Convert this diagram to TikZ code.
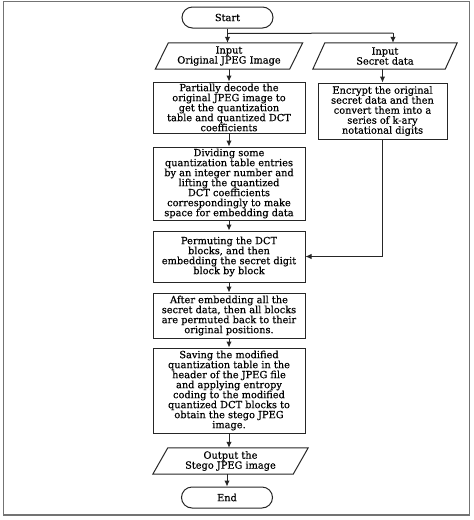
\documentclass[tikz,border=0pt]{standalone}
\usepackage{fontspec}
\setmainfont[FakeBold=0.4]{DejaVu Serif}
\usetikzlibrary{arrows.meta,calc}
\tikzset{
  txt/.style={align=center, inner sep=0pt, font=\fontsize{9.8}{10}\selectfont},
  proc/.style={txt, draw=black!85, line width=1pt, fill=white},
  term/.style={txt, draw=black!85, line width=1pt, rounded corners=10.5pt,
    minimum width=91pt, minimum height=21pt},
  iobox/.style={txt, minimum height=26pt},
  ln/.style={line width=1pt, draw=black!85},
  arr/.style={ln, -{Latex[length=6pt,width=5.5pt]}},
  frame/.style={draw=black!55, line width=1.5pt}
}
\newcommand{\parabox}[2]{%
  \draw[ln] ($(#1.south west)+(-#2,0)$) -- ($(#1.south east)+(-#2,0)$)
    -- ($(#1.north east)+(#2,0)$) -- ($(#1.north west)+(#2,0)$) -- cycle;}
\begin{document}
\begin{tikzpicture}[x=1pt,y=1pt]
\useasboundingbox (0,0) rectangle (474,-520);
\draw[frame] (3.5,-1.5) rectangle (469.5,-515);

\node[term] (start) at (227.5,-17.5) {Start};
\node[iobox, minimum width=134pt] (in1) at (229,-56) {Input\\Original JPEG Image};
\parabox{in1}{6.5}
\node[iobox, minimum width=132pt] (in2) at (385,-56) {Input\\Secret data};
\parabox{in2}{6}

\node[proc, minimum width=152pt, minimum height=51pt] (b1) at (229,-107.5)
  {Partially decode the\\original JPEG image to\\get the quantization\\table and quantized DCT\\coefficients};
\node[proc, minimum width=129pt, minimum height=56pt] (enc) at (382.5,-111)
  {Encrypt the original\\secret data and then\\convert them into a\\series of k-ary\\notational digits};
\node[proc, minimum width=152pt, minimum height=73pt] (b2) at (229,-183.5)
  {Dividing some\\quantization table entries\\by an integer number and\\lifting the quantized\\DCT coefficients\\correspondingly to make\\space for embedding data};
\node[proc, minimum width=152pt, minimum height=51pt] (b3) at (229,-256.5)
  {Permuting the DCT\\blocks, and then\\embedding the secret digit\\block by block};
\node[proc, minimum width=152pt, minimum height=45pt] (b4) at (229,-315.5)
  {After embedding all the\\secret data, then all blocks\\are permuted back to their\\original positions.};
\node[proc, minimum width=152pt, minimum height=85pt] (b5) at (229,-390.5)
  {Saving the modified\\quantization table in the\\header of the JPEG file\\and applying entropy\\coding to the modified\\quantized DCT blocks to\\obtain the stego JPEG\\image.};
\node[iobox, minimum width=140pt] (out) at (230.5,-461) {Output the\\Stego JPEG image};
\parabox{out}{7.5}
\node[term] (end) at (227,-497.5) {End};

\coordinate (br) at ($(start.south)+(0,-5)$);
\coordinate (brr) at (393,-33);
\draw[arr] (start.south) -- (start.south |- in1.north);
\draw[ln] (br) -- (brr);
\draw[arr] (brr) -- (brr |- in2.north);
\draw[arr] (in1.south) -- (b1.north);
\draw[arr] (enc.north |- in2.south) -- (enc.north);
\draw[arr] (b1.south) -- (b2.north);
\draw[arr] (b2.south) -- (b3.north);
\draw[arr] (enc.south) |- (b3.east);
\draw[arr] (b3.south) -- (b4.north);
\draw[arr] (b4.south) -- (b5.north);
\draw[arr] (b5.south) -- (b5.south |- out.north);
\draw[arr] (out.south -| end.north) -- (end.north);
\end{tikzpicture}
\end{document}
